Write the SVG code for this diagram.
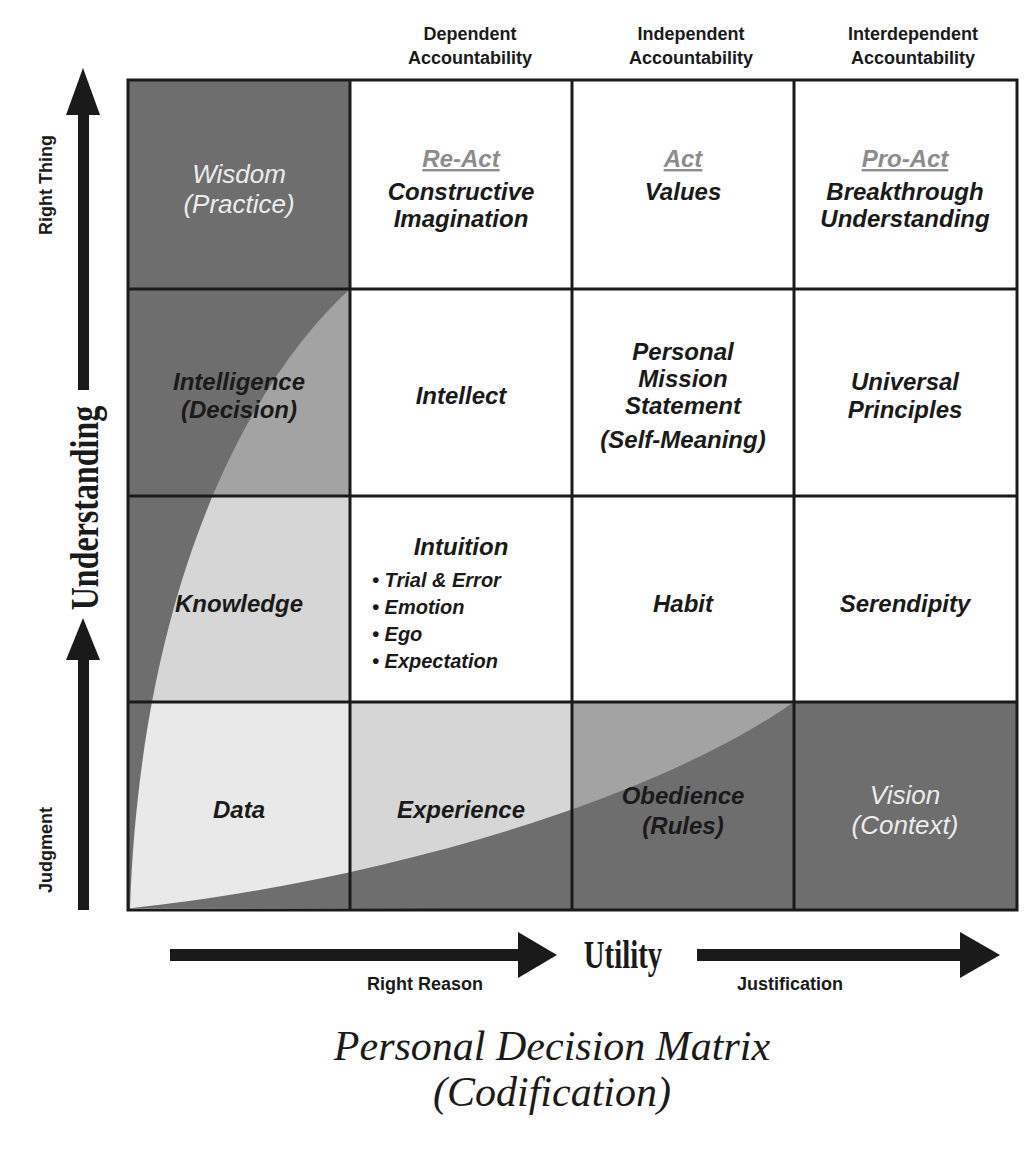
<svg xmlns="http://www.w3.org/2000/svg" width="1033" height="1165" viewBox="0 0 1033 1165">
<style>
.t{font-family:"Liberation Sans",Arial,sans-serif;font-weight:bold;font-style:italic;font-size:24px;fill:#1a1a1a;text-anchor:middle}
.s{font-family:"Liberation Sans",Arial,sans-serif;font-weight:bold;font-size:18px;fill:#1a1a1a;text-anchor:middle}
.g{fill:#8c8c8c;text-decoration:underline}
.w{fill:#ececec;font-weight:normal;font-size:26px}
.li{font-size:20px;text-anchor:start}
.grid{fill:none;stroke:#1a1a1a;stroke-width:3}
.ar{fill:#1a1a1a}
</style>
<rect width="1033" height="1165" fill="#fff"/>
<g id="shading">
<rect x="128" y="80" width="222" height="209" fill="#6e6e6e"/>
<rect x="128" y="289" width="222" height="207" fill="#a3a3a3"/>
<rect x="128" y="496" width="222" height="206" fill="#d6d6d6"/>
<rect x="128" y="702" width="222" height="208" fill="#e9e9e9"/>
<rect x="350" y="702" width="222" height="208" fill="#d6d6d6"/>
<rect x="572" y="702" width="222" height="208" fill="#a3a3a3"/>
<rect x="794" y="702" width="223" height="208" fill="#6e6e6e"/>
<path d="M128,289 L350,289 C240,390 140,600 130,910 L128,910 Z" fill="#6e6e6e"/>
<path d="M794,702 C640,810 350,885 132,908 L794,910 Z" fill="#6e6e6e"/>
</g>
<g id="grid">
<rect x="128" y="80" width="889" height="830" class="grid"/>
<path class="grid" d="M350,80V910M572,80V910M794,80V910M128,289H1017M128,496H1017M128,702H1017"/>
</g>
<g id="headers">
<text class="s" x="470" y="40">Dependent</text><text class="s" x="470" y="64">Accountability</text>
<text class="s" x="691" y="40">Independent</text><text class="s" x="691" y="64">Accountability</text>
<text class="s" x="913" y="40">Interdependent</text><text class="s" x="913" y="64">Accountability</text>
</g>
<g id="cells">
<text class="t w" x="239" y="183">Wisdom</text><text class="t w" x="239" y="213">(Practice)</text>
<text class="t g" x="461" y="167">Re-Act</text><text class="t" x="461" y="200">Constructive</text><text class="t" x="461" y="227">Imagination</text>
<text class="t g" x="683" y="167">Act</text><text class="t" x="683" y="200">Values</text>
<text class="t g" x="905" y="167">Pro-Act</text><text class="t" x="905" y="200">Breakthrough</text><text class="t" x="905" y="227">Understanding</text>
<text class="t" x="239" y="390">Intelligence</text><text class="t" x="239" y="418">(Decision)</text>
<text class="t" x="461" y="404">Intellect</text>
<text class="t" x="683" y="360">Personal</text><text class="t" x="683" y="387">Mission</text><text class="t" x="683" y="414">Statement</text><text class="t" x="683" y="448">(Self-Meaning)</text>
<text class="t" x="905" y="390">Universal</text><text class="t" x="905" y="418">Principles</text>
<text class="t" x="239" y="612">Knowledge</text>
<text class="t" x="461" y="555">Intuition</text>
<text class="t li" x="372" y="587">• Trial &amp; Error</text>
<text class="t li" x="372" y="614">• Emotion</text>
<text class="t li" x="372" y="641">• Ego</text>
<text class="t li" x="372" y="668">• Expectation</text>
<text class="t" x="683" y="612">Habit</text>
<text class="t" x="905" y="612">Serendipity</text>
<text class="t" x="239" y="818">Data</text>
<text class="t" x="461" y="818">Experience</text>
<text class="t" x="683" y="804">Obedience</text><text class="t" x="683" y="834">(Rules)</text>
<text class="t w" x="905" y="804">Vision</text><text class="t w" x="905" y="834">(Context)</text>
</g>
<g id="connectors">
<rect class="ar" x="78" y="110" width="11" height="280"/>
<path class="ar" d="M83,68 L100,115 L66,115 Z"/>
<rect class="ar" x="78" y="655" width="11" height="255"/>
<path class="ar" d="M83,618 L100,660 L66,660 Z"/>
<rect class="ar" x="170" y="949" width="355" height="12"/>
<path class="ar" d="M557,955 L518,932 L518,978 Z"/>
<rect class="ar" x="697" y="949" width="268" height="12"/>
<path class="ar" d="M1000,955 L960,932 L960,978 Z"/>
</g>
<g id="axis-labels">
<text class="s" transform="translate(52,185) rotate(-90)">Right Thing</text>
<text class="s" transform="translate(52,850) rotate(-90)">Judgment</text>
<text font-family="Liberation Serif,serif" font-weight="bold" font-size="40" text-anchor="middle" fill="#1a1a1a" transform="translate(98,508) rotate(-90) scale(0.8,1)">Understanding</text>
<text font-family="Liberation Serif,serif" font-weight="bold" font-size="40" text-anchor="middle" fill="#1a1a1a" transform="translate(623,968) scale(0.72,1)">Utility</text>
<text class="s" x="425" y="990">Right Reason</text>
<text class="s" x="790" y="990">Justification</text>
</g>
<g id="title">
<text font-family="Liberation Serif,serif" font-style="italic" font-size="42" text-anchor="middle" fill="#1a1a1a" x="552" y="1060">Personal Decision Matrix</text>
<text font-family="Liberation Serif,serif" font-style="italic" font-size="42" text-anchor="middle" fill="#1a1a1a" x="552" y="1106">(Codification)</text>
</g>
</svg>
